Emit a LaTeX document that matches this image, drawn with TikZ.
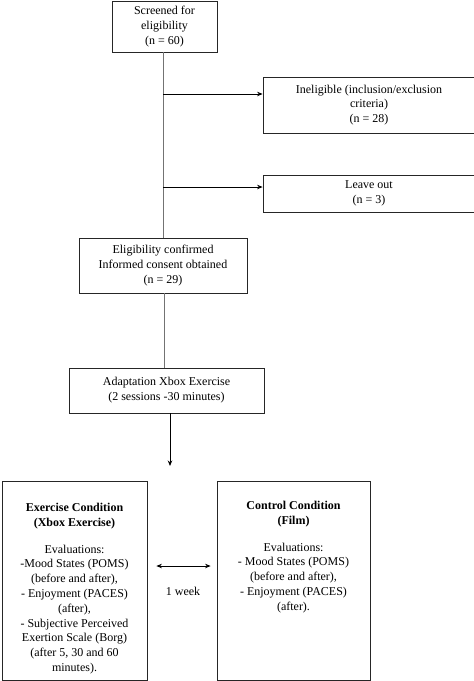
\documentclass[tikz,border=0pt]{standalone}
\usepackage{fontspec}
\setmainfont{Liberation Serif}
\usetikzlibrary{arrows.meta}

\begin{document}
\begin{tikzpicture}[x=1pt,y=-1pt,
	box/.style={draw=black!85,line width=0.8pt,align=center,inner sep=0pt,font=\fontsize{12}{14.8}\selectfont},
	txt/.style={align=center,inner sep=0pt,font=\fontsize{12}{14.8}\selectfont},
	arr/.style={-{Stealth[length=5.5pt,width=4.5pt]},line width=0.8pt}]
	\newcommand{\mylinecolor}{black!55}
	\newcommand{\myboxcolor}{black!85}

		\useasboundingbox (0,0) rectangle (474,681);

		% upper part
		\node[box,minimum width=105pt,minimum height=51pt] (scr) at (164.5,26.5) {Screened for\\eligibility\\(n = 60)};
		\node[box,minimum width=212pt,minimum height=56pt] (inel) at (369,105) {Ineligible (inclusion/exclusion\\criteria)\\(n = 28)};
		\node[box,minimum width=212pt,minimum height=37pt] (leave) at (369,193.5) {Leave out\\(n = 3)};
		\node[box,minimum width=168pt,minimum height=55pt] (elig) at (163,265.5) {Eligibility confirmed\\Informed consent obtained\\(n = 29)};
		\node[box,minimum width=195pt,minimum height=45pt] (adapt) at (166.5,390.5) {Adaptation Xbox Exercise\\(2 sessions -30 minutes)};

		\coordinate (t1) at (163,94);
		\coordinate (t2) at (163,187);
		\draw[\mylinecolor,line width=0.8pt] (t1 |- scr.south) -- (t1 |- elig.north);
		\draw[arr] (t1) -- (t1 -| inel.west);
		\draw[arr] (t2) -- (t2 -| leave.west);
		\draw[\mylinecolor,line width=0.8pt] (164,0 |- elig.south) -- (164,0 |- adapt.north);

		\coordinate (split) at (170,466);
		\draw[arr,line width=1pt] (split |- adapt.south) -- (split);

		% the two conditions
		\node[box,minimum width=145pt,minimum height=199pt,anchor=north] (exer) at (74.5,481) {};
		\node[box,minimum width=153pt,minimum height=199pt,anchor=north] (ctrl) at (293.5,481) {};
		\node[txt,anchor=north] (exertxt) at (74.5,503) {\textbf{Exercise Condition}\\\textbf{(Xbox Exercise)}\\[12pt]
			Evaluations:\\-Mood States (POMS)\\(before and after),\\- Enjoyment (PACES)\\(after),\\- Subjective Perceived\\Exertion Scale (Borg)\\(after 5, 30 and 60\\minutes).};
		\node[txt,anchor=north] (ctrltxt) at (293.5,501) {\textbf{Control Condition}\\\textbf{(Film)}\\[12pt]
			Evaluations:\\- Mood States (POMS)\\(before and after),\\- Enjoyment (PACES)\\(after).};

		\coordinate (wk) at (183,566);
		\draw[{Stealth[length=5.5pt,width=4.5pt]}-{Stealth[length=5.5pt,width=4.5pt]},line width=0.8pt,shorten <=9pt,shorten >=6pt] (wk -| exer.east) -- (wk -| ctrl.west);
		\node[txt] (week) at (183,591) {1 week};
\end{tikzpicture}
\end{document}
